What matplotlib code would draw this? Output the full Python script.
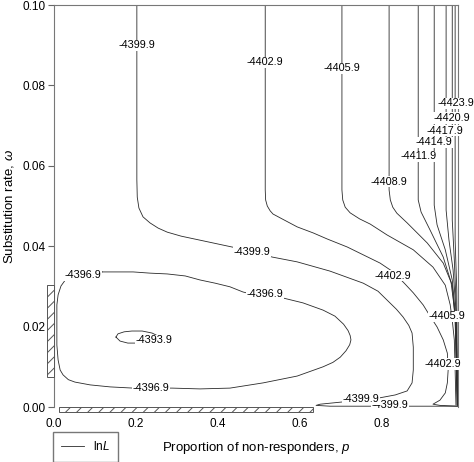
import matplotlib
matplotlib.use("Agg")
import matplotlib.pyplot as plt
from matplotlib.patches import Rectangle
from matplotlib.lines import Line2D

plt.rcParams['font.family'] = ['Liberation Sans', 'DejaVu Sans']
plt.rcParams['mathtext.fontset'] = 'custom'
plt.rcParams['mathtext.rm'] = 'Liberation Sans'
plt.rcParams['mathtext.it'] = 'Liberation Sans:italic'
plt.rcParams['hatch.linewidth'] = 0.7

# contour lines of lnL (x = p, y = omega)
lv_43939 = -4393.9
x_43939 = [0.151, 0.156, 0.171, 0.190, 0.215, 0.239, 0.259, 0.234, 0.210, 0.180, 0.161, 0.151]
y_43939 = [0.0174, 0.0182, 0.0187, 0.0189, 0.0189, 0.0184, 0.0174, 0.0164, 0.0159, 0.0159, 0.0164, 0.0174]

lv_43969 = -4396.9
x_43969 = [0.117, 0.129, 0.161, 0.193, 0.234, 0.276, 0.320, 0.356, 0.393, 0.429, 0.461, 0.502,
           0.559, 0.607, 0.656, 0.685, 0.706, 0.717, 0.722, 0.724, 0.721, 0.712, 0.698, 0.680, 0.656,
           0.593, 0.510, 0.429, 0.356, 0.288, 0.193, 0.137, 0.088, 0.051, 0.035, 0.022, 0.015,
           0.010, 0.007, 0.007, 0.007, 0.010, 0.017, 0.029, 0.051, 0.088, 0.117]
y_43969 = [0.0336, 0.0336, 0.0336, 0.0336, 0.0333, 0.0331, 0.0326, 0.0316, 0.0308, 0.0299, 0.0286, 0.0276,
           0.0271, 0.0259, 0.0241, 0.0226, 0.0206, 0.0190, 0.0178, 0.0167, 0.0155, 0.0140, 0.0124, 0.0111, 0.0100,
           0.0077, 0.0060, 0.0047, 0.0045, 0.0047, 0.0047, 0.0050, 0.0055, 0.0062, 0.0068, 0.0080, 0.0092,
           0.0117, 0.0154, 0.0216, 0.0254, 0.0279, 0.0301, 0.0318, 0.0331, 0.0336, 0.0336]

lv_43999 = -4399.9
x_43999 = [0.202, 0.202, 0.202, 0.203, 0.207, 0.217, 0.234, 0.254, 0.276, 0.310, 0.356, 0.434, 0.483, 0.532,
           0.593, 0.673, 0.754, 0.790, 0.812, 0.835, 0.851, 0.865, 0.873, 0.876, 0.876, 0.873, 0.861, 0.832,
           0.790, 0.746, 0.698, 0.649, 0.639, 0.673, 0.746, 0.844, 0.985]
y_43999 = [0.1000, 0.0764, 0.0565, 0.0522, 0.0495, 0.0473, 0.0458, 0.0445, 0.0435, 0.0425, 0.0415, 0.0398,
           0.0388, 0.0373, 0.0361, 0.0338, 0.0308, 0.0288, 0.0266, 0.0243, 0.0224, 0.0203, 0.0184, 0.0149,
           0.0092, 0.0060, 0.0040, 0.0030, 0.0022, 0.0017, 0.0012, 0.0007, 0.0004, 0.0002, 0.0002, 0.0002,
           0.0002]

lv_44029 = -4402.9
x_44029 = [0.515, 0.515, 0.516, 0.520, 0.527, 0.534, 0.556, 0.593, 0.632, 0.666, 0.715, 0.759, 0.795,
           0.827, 0.854, 0.876, 0.900, 0.917, 0.934, 0.949, 0.959, 0.961, 0.959, 0.954, 0.941,
           0.924, 0.941, 0.985]
y_44029 = [0.1000, 0.0540, 0.0515, 0.0500, 0.0488, 0.0480, 0.0468, 0.0448, 0.0433, 0.0418, 0.0398, 0.0376,
           0.0358, 0.0336, 0.0308, 0.0284, 0.0254, 0.0226, 0.0199, 0.0167, 0.0134, 0.0092, 0.0060, 0.0035,
           0.0017, 0.0007, 0.0004, 0.0002]

lv_44059 = -4405.9
x_44059 = [0.702, 0.702, 0.704, 0.710, 0.722, 0.745, 0.771, 0.812, 0.876, 0.924, 0.954, 0.966, 0.971,
           0.976, 0.978, 0.980]
y_44059 = [0.1000, 0.0540, 0.0515, 0.0497, 0.0483, 0.0468, 0.0455, 0.0428, 0.0391, 0.0348, 0.0303, 0.0254,
           0.0216, 0.0167, 0.0092, 0.0005]

lv_44089 = -4408.9
x_44089 = [0.817, 0.817, 0.820, 0.826, 0.836, 0.861, 0.910, 0.949, 0.971, 0.978, 0.983]
y_44089 = [0.1000, 0.0540, 0.0515, 0.0497, 0.0482, 0.0458, 0.0408, 0.0358, 0.0303, 0.0216, 0.0005]

lv_44119 = -4411.9
x_44119 = [0.888, 0.888, 0.895, 0.917, 0.949, 0.968, 0.978, 0.983]
y_44119 = [0.1000, 0.0515, 0.0485, 0.0440, 0.0373, 0.0311, 0.0229, 0.0005]

lv_44149 = -4414.9
x_44149 = [0.927, 0.927, 0.934, 0.954, 0.971, 0.980, 0.984]
y_44149 = [0.1000, 0.0502, 0.0453, 0.0391, 0.0316, 0.0216, 0.0005]

lv_44179 = -4417.9
x_44179 = [0.956, 0.956, 0.963, 0.973, 0.980, 0.984]
y_44179 = [0.1000, 0.0490, 0.0415, 0.0341, 0.0241, 0.0005]

lv_44209 = -4420.9
x_44209 = [0.971, 0.971, 0.976, 0.980, 0.984]
y_44209 = [0.1000, 0.0465, 0.0366, 0.0266, 0.0005]

lv_44239 = -4423.9
x_44239 = [0.978, 0.978, 0.982, 0.984]
y_44239 = [0.1000, 0.0415, 0.0291, 0.0005]

# contour labels (value, p, omega)
lab_val = [-4399.9, -4399.9, -4393.9, -4396.9, -4396.9, -4396.9, -4399.9, -4399.9,
           -4402.9, -4402.9, -4402.9, -4405.9, -4405.9, -4408.9, -4411.9, -4414.9,
           -4417.9, -4420.9, -4423.9]
lab_x = [0.820, 0.749, 0.243, 0.071, 0.237, 0.515, 0.202, 0.483,
         0.515, 0.827, 0.949, 0.702, 0.959, 0.817, 0.888, 0.927,
         0.954, 0.971, 0.980]
lab_y = [0.0005, 0.0020, 0.0166, 0.0328, 0.0047, 0.0281, 0.0900, 0.0386,
         0.0858, 0.0326, 0.0107, 0.0843, 0.0226, 0.0560, 0.0624, 0.0659,
         0.0687, 0.0719, 0.0756]

yticks = [0.00, 0.02, 0.04, 0.06, 0.08, 0.10]
xticks = [0.0, 0.2, 0.4, 0.6, 0.8]

fig = plt.figure(figsize=(4.74, 4.62), dpi=100)
ax = fig.add_axes([54 / 474, 55 / 462, 404 / 474, 402 / 462])

line_col = '#2a2a2a'
lines = [(x_43939, y_43939), (x_43969, y_43969), (x_43999, y_43999), (x_44029, y_44029),
         (x_44059, y_44059), (x_44089, y_44089), (x_44119, y_44119), (x_44149, y_44149),
         (x_44179, y_44179), (x_44209, y_44209), (x_44239, y_44239)]
for xs, ys in lines:
    ax.plot(xs, ys, color=line_col, lw=0.6)

for v, lx, ly in zip(lab_val, lab_x, lab_y):
    ax.text(lx, ly, f"{v:.1f}", ha='center', va='center', fontsize=7.8, color='black',
            bbox=dict(fc='white', ec='none', pad=0.4), zorder=5, clip_on=False)

# hatched regions along the boundaries
ax.add_patch(Rectangle((-0.017, 0.0075), 0.017, 0.0228, fc='white', ec='#555555', lw=0.7,
                       hatch='///', clip_on=False, zorder=4))
ax.add_patch(Rectangle((0.012, -0.0013), 0.620, 0.0012, fc='white', ec='#555555', lw=0.7,
                       hatch='///', clip_on=False, zorder=4))

ax.set_xlim(0, 0.985)
ax.set_ylim(0, 0.1)
ax.set_xticks(xticks)
ax.set_xticklabels([f"{t:.1f}" for t in xticks])
ax.set_yticks(yticks)
ax.set_yticklabels([f"{t:.2f}" for t in yticks])
ax.tick_params(axis='x', length=0, pad=8, labelsize=8.5)
ax.tick_params(axis='y', length=4, width=0.8, color='#666666', pad=2, labelsize=8.5)

for s in ['left', 'top', 'right']:
    ax.spines[s].set_color('#777777')
    ax.spines[s].set_linewidth(0.8)
ax.spines['bottom'].set_visible(False)

ax.set_xlabel('Proportion of non-responders, $p$', fontsize=9.5, labelpad=7)
ax.set_ylabel(r'Substitution rate, $\omega$', fontsize=9.5, labelpad=5)

h = Line2D([], [], color=line_col, lw=0.6)
ax.legend([h], ['ln$L$'], loc='upper left', bbox_to_anchor=(53 / 474, 30 / 462),
          bbox_transform=fig.transFigure, borderaxespad=0, fancybox=False,
          edgecolor='#777777', fontsize=8.5, handlelength=1.95, handletextpad=0.7,
          borderpad=0.7, framealpha=1)

fig.savefig('out.png', dpi=100)
